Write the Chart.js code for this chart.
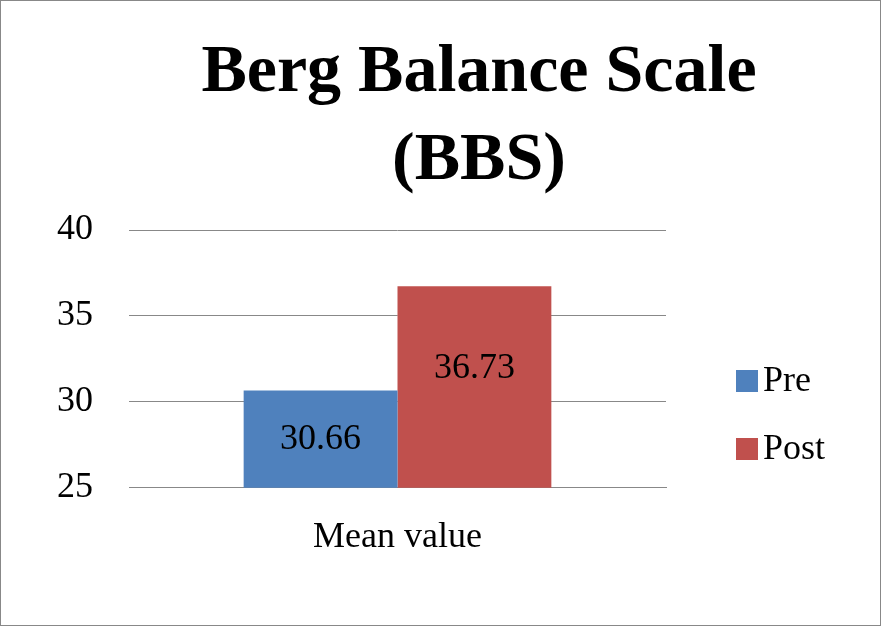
<!DOCTYPE html>
<html>
<head>
<script src="https://cdn.jsdelivr.net/npm/chart.js@4"></script>
<style>
body { margin: 0; background: #fff; }
#wrap { width: 879px; height: 624px; border: 1px solid #888; }
</style>
</head>
<body>
<div id="wrap"><canvas id="c" width="879" height="624"></canvas></div>
<script>
const categories = ["Mean value"];
const seriesNames = ["Pre", "Post"];
const preValues = [30.66];
const postValues = [36.73];
const colors = ["#4f81bd", "#c0504d"];
const titleLines = ["Berg Balance Scale", "(BBS)"];

// title, labels inside bars, legend on the right
const extras = {
  id: "extras",
  afterDatasetsDraw(chart) {
    const ctx = chart.ctx;
    const bottom = chart.chartArea.bottom;
    ctx.save();
    ctx.fillStyle = "#000";
    ctx.textAlign = "center";
    ctx.textBaseline = "alphabetic";
    ctx.font = "bold 68px 'Liberation Serif'";
    ctx.fillText(titleLines[0], 478, 90);
    ctx.fillText(titleLines[1], 478, 178);

    ctx.font = "36px 'Liberation Serif'";
    ctx.textBaseline = "middle";
    chart.data.datasets.forEach((ds, i) => {
      chart.getDatasetMeta(i).data.forEach((bar, j) => {
        const y = (bar.y + bottom) / 2 - (i == 1 ? 18 : 0);
        ctx.fillText(ds.data[j].toFixed(2), bar.x, y);
      });
    });
    ctx.textAlign = "left";
    seriesNames.forEach((n, i) => {
      const y = 380 + i * 68;
      ctx.fillStyle = colors[i];
      ctx.fillRect(735, y - 11, 22, 22);
      ctx.fillStyle = "#000";
      ctx.fillText(n, 762, y + 1);
    });
    ctx.restore();
  }
};

new Chart(document.getElementById("c"), {
  type: "bar",
  data: {
    labels: categories,
    datasets: [
      { label: seriesNames[0], data: preValues, backgroundColor: colors[0] },
      { label: seriesNames[1], data: postValues, backgroundColor: colors[1] }
    ]
  },
  options: {
    responsive: false,
    animation: false,
    layout: { padding: { left: 20, right: 214, top: 229, bottom: 46 } },
    categoryPercentage: 0.573,
    barPercentage: 1,
    plugins: {
      legend: { display: false },
      tooltip: { enabled: false },
      title: { display: false }
    },
    scales: {
      x: {
        grid: { display: false },
        border: { color: "#888" },
        ticks: { color: "#000", font: { family: "'Liberation Serif'", size: 36 }, padding: 20 }
      },
      y: {
        min: 25, max: 40,
        ticks: { stepSize: 5, color: "#000", font: { family: "'Liberation Serif'", size: 36 }, padding: 36 },
        grid: { color: "#888", drawTicks: false },
        border: { display: false }
      }
    }
  },
  plugins: [extras]
});
</script>
</body>
</html>
